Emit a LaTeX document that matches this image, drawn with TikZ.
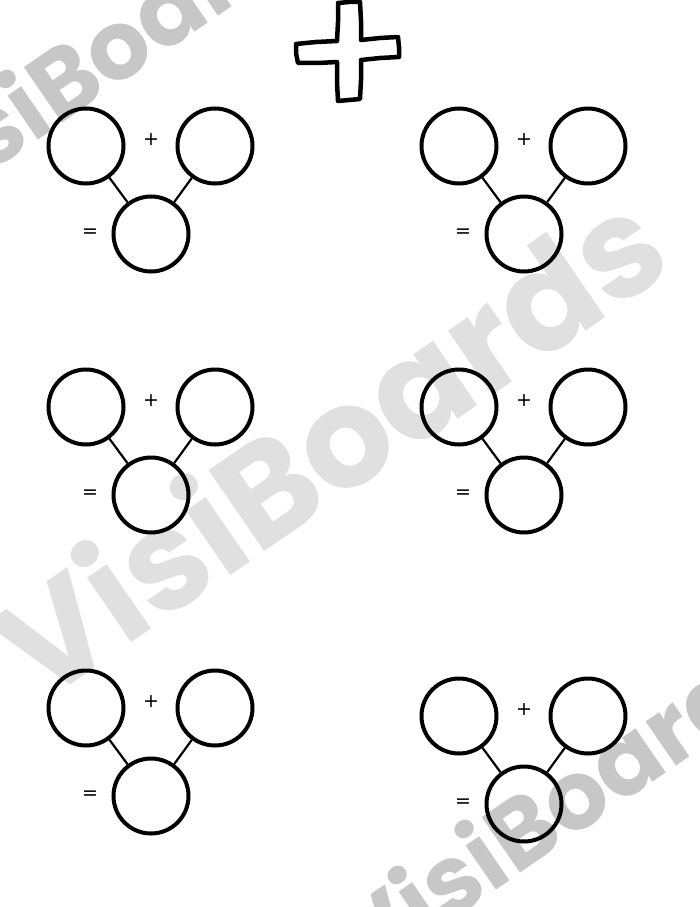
\documentclass[tikz,border=0pt]{standalone}
\usepackage{fontspec}
\newfontfamily\wmfont{Poppins}
\newfontfamily\symfont{DejaVu Sans}
\tikzset{
  ring/.style={circle, draw, line width=4pt, minimum size=75pt, inner sep=0pt},
  link/.style={line width=2.2pt},
  sign/.style={font=\symfont\fontsize{19}{19}\selectfont, inner sep=0pt},
  wm/.style={font=\wmfont\bfseries\fontsize{140}{140}\selectfont, text=black!12, anchor=base, rotate=34.5, inner sep=0pt},
  wmsmall/.style={font=\wmfont\bfseries\fontsize{96}{96}\selectfont, text=black!22, rotate=34.5, inner sep=0pt},
  bigplus/.style={line width=4.5pt, line join=round, fill=white}
}
\newcommand\numbond[3]{%
  \node[ring] (#1a) at (#2,#3) {};
  \node[ring] (#1b) at (#2+129,#3) {};
  \node[ring] (#1c) at (#2+65,#3+88) {};
  \draw[link] (#1a) -- (#1c);
  \draw[link] (#1b) -- (#1c);
  \node[sign] (#1p) at (#2+65,#3-6) {+};
  \node[sign] (#1e) at (#2+4,#3+87) {=};
}
\begin{document}
\begin{tikzpicture}[x=1pt,y=-1pt]
\useasboundingbox (0,0) rectangle (699,907);
\clip (0,0) rectangle (699,907);
\fill[white] (0,0) rectangle (699,907);
% watermarks
\coordinate (wb1) at (57,127);
\node[wmsmall, anchor=base east] (w1a) at (wb1) {Visi};
\node[wmsmall, anchor=base west] (w1b) at (wb1) {Boards};
\node[wm] (w2) at (359,487) {VisiBoards};
\coordinate (wb3) at (515,877);
\node[wmsmall, anchor=base east] (w3a) at (wb3) {Visi};
\node[wmsmall, anchor=base west] (w3b) at (wb3) {Boards};
% big plus
\draw[bigplus] (338,3) -- (349,2) -- (360,2) -- (361,21) -- (361,40) -- (380,38) -- (398,37)
  -- (399,47) -- (399,57) -- (380,58) -- (361,60) -- (361,80) -- (360,99) -- (349,100)
  -- (338,101) -- (337,82) -- (337,62) -- (318,63) -- (298,63) -- (296,53) -- (296,44)
  -- (316,42) -- (337,41) -- (338,22) -- cycle;
% number bonds
\numbond{tl}{86}{146}
\numbond{tr}{459}{146}
\numbond{ml}{86}{407}
\numbond{mr}{459}{407}
\numbond{bl}{86}{708}
\numbond{br}{459}{716}
\end{tikzpicture}
\end{document}
